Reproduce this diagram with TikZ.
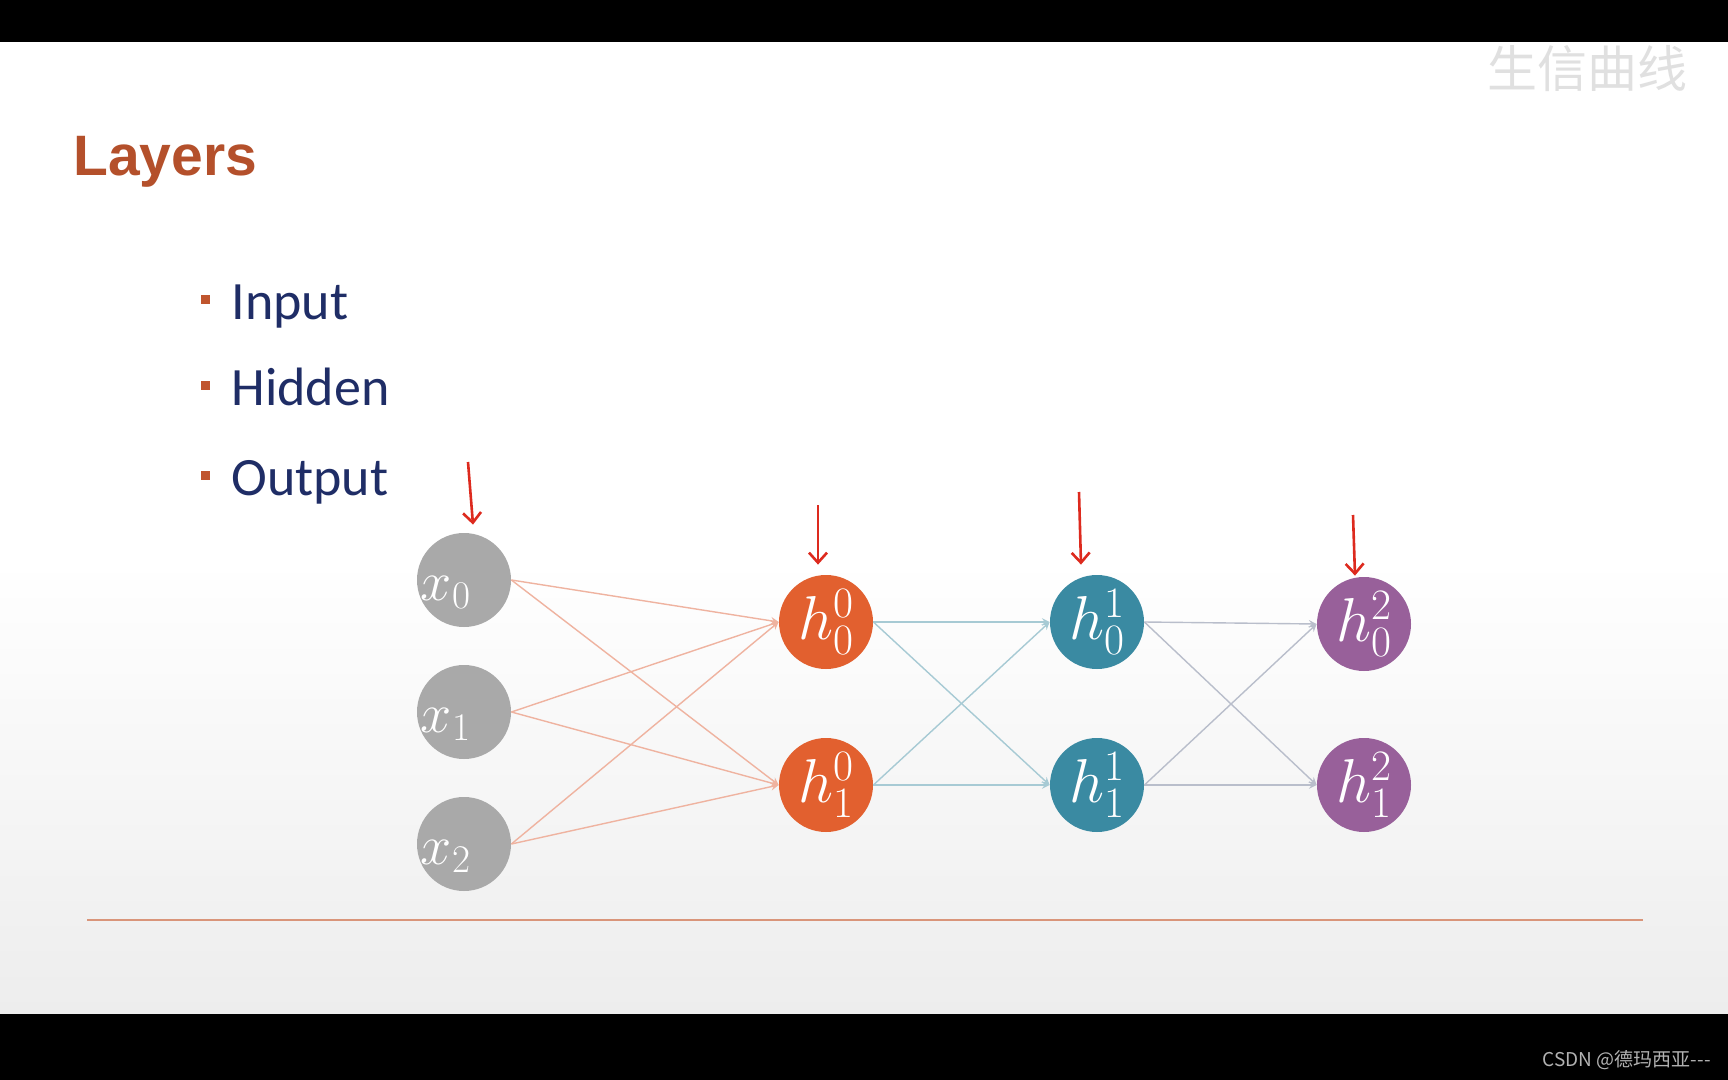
\RequirePackage{fix-cm}
\documentclass[tikz,border=0pt]{standalone}
\usepackage{fontspec}
\setmainfont{Carlito}
\newfontfamily\titlefont{Liberation Sans}
\newfontfamily\cjkfont{Noto Sans CJK SC}
\usetikzlibrary{arrows, arrows.meta, positioning, calc}
\tikzset{>=stealth}

\definecolor{titlecol}{HTML}{B4502B}
\definecolor{itemcol}{HTML}{1F2D66}
\definecolor{bulletcol}{HTML}{C0552E}
\definecolor{ingray}{HTML}{A9A9A9}
\definecolor{hidorange}{HTML}{E2602F}
\definecolor{hidteal}{HTML}{3A8AA2}
\definecolor{outpurple}{HTML}{98609A}
\definecolor{inedgecol}{HTML}{EFB3A0}
\definecolor{hidedgecol}{HTML}{A7CAD4}
\definecolor{outedgecol}{HTML}{B9BECB}
\definecolor{markred}{HTML}{DD2A1E}
\definecolor{rulecol}{HTML}{D9957A}
\definecolor{bggray}{HTML}{EDEDED}

\newcommand{\inlab}[1]{\raisebox{-10pt}[0pt][0pt]{\hspace*{-18pt}$#1$}}

\tikzset{
  neuron/.style={circle, minimum size=47pt, inner sep=0pt, text=white,
    font=\fontsize{31}{31}\selectfont},
  innode/.style={neuron, fill=ingray, font=\fontsize{28}{28}\selectfont},
  node0/.style={neuron, fill=hidorange},
  node1/.style={neuron, fill=hidteal},
  node2/.style={neuron, fill=outpurple},
  inedge/.style={->, draw=inedgecol, line width=0.7pt},
  hidedge/.style={->, draw=hidedgecol, line width=0.7pt},
  outedge/.style={->, draw=outedgecol, line width=0.7pt},
  pointer/.style={-{Straight Barb[length=5pt,width=9pt]}, draw=markred, line width=1.3pt},
  itemtext/.style={anchor=base west, inner sep=0pt, text=itemcol,
    font=\fontsize{27}{27}\selectfont},
  bulletsq/.style={fill=bulletcol, minimum size=4.5pt, inner sep=0pt}
}

\begin{document}
\begin{tikzpicture}[x=0.5pt, y=-0.5pt]
  \useasboundingbox (0,0) rectangle (1728,1080);
  % background
  \fill[white] (0,0) rectangle (1728,1080);
  \shade[top color=white, bottom color=bggray] (0,560) rectangle (1728,1014);
  \fill[black] (0,0) rectangle (1728,42);
  \fill[black] (0,1014) rectangle (1728,1080);
  \node[font=\cjkfont\fontsize{25}{25}\selectfont, text=black!12] (mark) at (1587,69) {生信曲线};
  \node[anchor=east, inner sep=0pt, font=\cjkfont\fontsize{9.5}{9.5}\selectfont, text=black!30] (csdn) at (1711,1060) {CSDN @德玛西亚---};

  % heading and list
  \node[anchor=base west, inner sep=0pt, text=titlecol,
    font=\titlefont\bfseries\fontsize{28.5}{28.5}\selectfont] (title) at (73,176) {Layers};
  \foreach \t/\y [count=\k] in {Input/320, Hidden/406, Output/495} {
    \node[itemtext] (item\k) at (231,\y) {\t};
    \node[bulletsq] (bul\k) at (205,\y-20) {};
  }

  % neurons
  \node[innode] (x0) at (464,580) {\inlab{x_0}};
  \node[innode] (x1) at (464,712) {\inlab{x_1}};
  \node[innode] (x2) at (464,844) {\inlab{x_2}};
  \node[node0] (h00) at (826,622) {$h_0^0$};
  \node[node0] (h01) at (826,785) {$h_1^0$};
  \node[node1] (h10) at (1097,622) {$h_0^1$};
  \node[node1] (h11) at (1097,785) {$h_1^1$};
  \node[node2] (h20) at (1364,624) {$h_0^2$};
  \node[node2] (h21) at (1364,785) {$h_1^2$};

  % weights
  \foreach \i in {0,1,2}
    \foreach \j in {0,1}
      \draw[inedge] (x\i.east) -- (h0\j.west);
  \foreach \i in {0,1}
    \foreach \j in {0,1} {
      \draw[hidedge] (h0\i.east) -- (h1\j.west);
      \draw[outedge] (h1\i.east) -- (h2\j.west);
    }

  % red marks
  \coordinate (p0) at (468,462);
  \coordinate (p1) at (818,505);
  \coordinate (p2) at (1079,492);
  \coordinate (p3) at (1353,515);
  \draw[pointer] (p0) -- ([shift={(9,-8)}]x0.north);
  \draw[pointer] (p1) -- ([shift={(-8,-10)}]h00.north);
  \draw[pointer] (p2) -- ([shift={(-16,-10)}]h10.north);
  \draw[pointer] (p3) -- ([shift={(-9,-1)}]h20.north);

  \draw[rulecol, line width=1pt] (87,920) -- (1643,920);
\end{tikzpicture}
\end{document}
